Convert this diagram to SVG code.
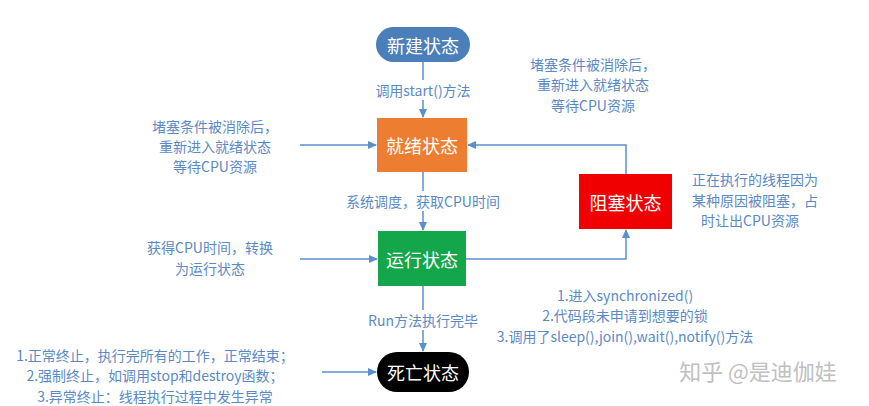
<svg xmlns="http://www.w3.org/2000/svg" width="869" height="406" viewBox="0 0 869 406">
<defs>
<marker id="a" markerWidth="10" markerHeight="10" refX="8" refY="5" orient="auto" markerUnits="userSpaceOnUse"><path d="M0,1 L9,5 L0,9 z" fill="#5b8fcc"/></marker>
<style>
text{font-family:"Noto Sans CJK SC","Noto Sans",sans-serif}
.n{fill:#fff;font-size:18px;text-anchor:middle;dominant-baseline:central}
.l{fill:#5a8ac6;font-size:14px;text-anchor:middle}
.c{fill:none;stroke:#5b8fcc;stroke-width:1.5;marker-end:url(#a)}
.bg{fill:#fff}
</style>
</defs>
<rect width="869" height="406" fill="#fff"/>
<g id="connectors">
<path class="c" d="M423,62 V117"/>
<path class="c" d="M423,172 V230"/>
<path class="c" d="M423,286 V351"/>
<path class="c" d="M300,145 H376"/>
<path class="c" d="M300,259 H377"/>
<path class="c" d="M322,372 H376"/>
<path class="c" d="M466,259 H626 V230"/>
<path class="c" d="M626,174 V145 H468"/>
</g>
<g id="new"><rect x="376" y="27" width="94" height="35" rx="17.5" fill="#4b7fb9"/><text class="n" x="423" y="44.5">新建状态</text></g>
<g id="ready"><rect x="377" y="118" width="90" height="54" fill="#ed7d31"/><text class="n" x="422" y="145">就绪状态</text></g>
<g id="running"><rect x="378" y="231" width="88" height="55" fill="#14a64a"/><text class="n" x="422" y="258.5">运行状态</text></g>
<g id="blocked"><rect x="579" y="174" width="93" height="55" fill="#f00000"/><text class="n" x="625.5" y="201.5">阻塞状态</text></g>
<g id="dead"><rect x="377" y="352" width="92" height="40" rx="20" fill="#000"/><text class="n" x="423" y="372">死亡状态</text></g>
<g id="labels">
<rect class="bg" x="365" y="80" width="116" height="20"/>
<text class="l" x="423" y="96">调用start()方法</text>
<rect class="bg" x="338" y="191" width="170" height="20"/>
<text class="l" x="423" y="207">系统调度，获取CPU时间</text>
<rect class="bg" x="361" y="310" width="124" height="20"/>
<text class="l" x="423" y="326">Run方法执行完毕</text>
<text class="l" x="215" y="132">堵塞条件被消除后，</text>
<text class="l" x="215" y="152">重新进入就绪状态</text>
<text class="l" x="215" y="172">等待CPU资源</text>
<text class="l" x="593" y="70">堵塞条件被消除后，</text>
<text class="l" x="593" y="90">重新进入就绪状态</text>
<text class="l" x="593" y="111">等待CPU资源</text>
<text class="l" x="755" y="185">正在执行的线程因为</text>
<text class="l" x="755" y="206">某种原因被阻塞，占</text>
<text class="l" x="750" y="226">时让出CPU资源</text>
<text class="l" x="210" y="253">获得CPU时间，转换</text>
<text class="l" x="210" y="274">为运行状态</text>
<text class="l" x="625" y="301">1.进入synchronized()</text>
<text class="l" x="625" y="321">2.代码段未申请到想要的锁</text>
<text class="l" x="625" y="342">3.调用了sleep(),join(),wait(),notify()方法</text>
<text class="l" x="155" y="361">1.正常终止，执行完所有的工作，正常结束；</text>
<text class="l" x="155" y="381">2.强制终止，如调用stop和destroy函数；</text>
<text class="l" x="155" y="402">3.异常终止：线程执行过程中发生异常</text>
<text x="758" y="380" fill="#c0c0c0" font-size="22" text-anchor="middle">知乎 @是迪伽娃</text>
</g>
</svg>
